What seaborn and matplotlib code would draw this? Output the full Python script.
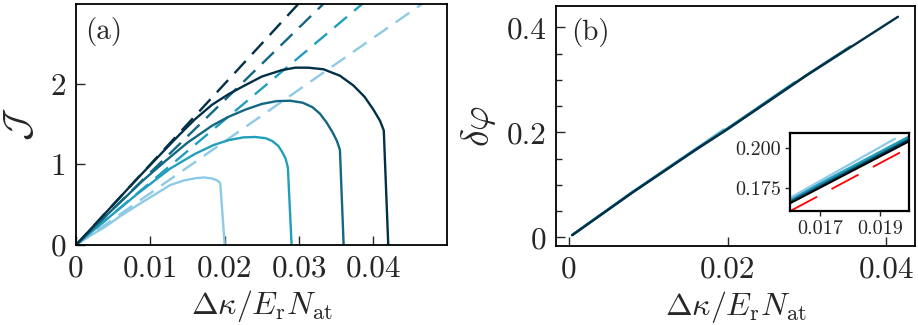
import matplotlib
matplotlib.use("Agg")
import matplotlib.pyplot as plt
from matplotlib.ticker import FuncFormatter, MultipleLocator
import seaborn as sns

# colours, light -> dark
colors = ['#8ecae6', '#219ebc', '#126782', '#023047']

# panel (a): J vs delta kappa, solid curves
j_x1 = [0, 0.002, 0.004, 0.006, 0.0082, 0.0105, 0.0127, 0.0145, 0.0162, 0.0172, 0.0183, 0.0190, 0.0194, 0.0200]
j_y1 = [0, 0.12, 0.23, 0.36, 0.49, 0.62, 0.745, 0.80, 0.83, 0.838, 0.825, 0.80, 0.77, 0]
j_x2 = [0, 0.004, 0.0082, 0.0127, 0.016, 0.0185, 0.0205, 0.0225, 0.0241, 0.0255, 0.0264, 0.0272, 0.0277, 0.0282, 0.0285, 0.0290]
j_y2 = [0, 0.31, 0.63, 0.95, 1.13, 1.24, 1.30, 1.335, 1.34, 1.325, 1.29, 1.23, 1.16, 1.07, 0.96, 0]
j_x3 = [0, 0.003, 0.006, 0.009, 0.012, 0.015, 0.0183, 0.0205, 0.0228, 0.025, 0.027, 0.0288, 0.0305, 0.0318, 0.0328, 0.0337, 0.0345, 0.0351, 0.0355, 0.0360]
j_y3 = [0, 0.27, 0.535, 0.80, 1.04, 1.27, 1.48, 1.59, 1.68, 1.75, 1.785, 1.79, 1.765, 1.71, 1.63, 1.52, 1.40, 1.29, 1.18, 0]
j_x4 = [0, 0.002, 0.005, 0.008, 0.0109, 0.0135, 0.016, 0.0183, 0.0205, 0.0225, 0.025, 0.0277, 0.0295, 0.0312, 0.0333, 0.0355, 0.0373, 0.0388, 0.0400, 0.0409, 0.0414, 0.0420]
j_y4 = [0, 0.20, 0.50, 0.80, 1.08, 1.33, 1.56, 1.74, 1.87, 1.97, 2.09, 2.17, 2.20, 2.20, 2.18, 2.10, 1.98, 1.84, 1.68, 1.54, 1.42, 0]

# panel (a): linear dashed guides (start and end points)
lin_x = [[0, 0.0498], [0, 0.0412], [0, 0.0356], [0, 0.032]]
lin_y = [[0, 3.2], [0, 3.2], [0, 3.2], [0, 3.2]]

# panel (b): delta phi vs delta kappa
p_x1 = [0.0004, 0.008, 0.016, 0.0195]
p_y1 = [0.0045, 0.0865, 0.1688, 0.2058]
p_x2 = [0.0004, 0.008, 0.016, 0.020, 0.0285]
p_y2 = [0.0043, 0.0860, 0.1680, 0.2075, 0.2955]
p_x3 = [0.0004, 0.008, 0.016, 0.020, 0.030, 0.0355]
p_y3 = [0.0042, 0.0856, 0.1673, 0.2067, 0.3095, 0.3635]
p_x4 = [0.0004, 0.008, 0.016, 0.020, 0.030, 0.0415]
p_y4 = [0.0040, 0.0852, 0.1667, 0.2058, 0.3085, 0.4200]
black_x = [0.0155, 0.0205]
black_y = [0.1611, 0.2099]
red_x = [0.0160, 0.0205]
red_y = [0.1605, 0.2055]

sns.set_theme(style='ticks')
plt.rcParams['font.family'] = 'serif'
plt.rcParams['font.serif'] = ['cmr10', 'DejaVu Serif']
plt.rcParams['mathtext.fontset'] = 'cm'
plt.rcParams['axes.formatter.use_mathtext'] = True

fs_tick = 22.5
fs_xlab = 23
fs_ylab = 27
fig = plt.figure(figsize=(9.18, 3.25), dpi=100)
ax1 = fig.add_axes([0.0828, 0.2462, 0.4041, 0.7415])
ax2 = fig.add_axes([0.6057, 0.2431, 0.3911, 0.7385])
axin = fig.add_axes([0.8606, 0.3508, 0.1296, 0.24])

fmt = FuncFormatter(lambda v, p: '%g' % round(v, 6))

# (a)
for i in range(4):
    sns.lineplot(x=lin_x[i], y=lin_y[i], ax=ax1, color=colors[i], lw=1.7,
                 linestyle=(0, (7, 4)), sort=False, estimator=None)
for xs, ys, c in zip([j_x1, j_x2, j_x3, j_x4], [j_y1, j_y2, j_y3, j_y4], colors):
    sns.lineplot(x=xs, y=ys, ax=ax1, color=c, lw=1.7, sort=False, estimator=None)
ax1.set_xlim(0, 0.0499)
ax1.set_ylim(0, 2.99)
ax1.set_xticks([0, 0.01, 0.02, 0.03, 0.04])
ax1.set_yticks([0, 1, 2])
ax1.xaxis.set_major_formatter(fmt)
ax1.yaxis.set_major_formatter(fmt)
ax1.set_xlabel(r'$\Delta\kappa/E_{\mathrm{r}}N_{\mathrm{at}}$', fontsize=fs_xlab, labelpad=4)
ax1.set_ylabel(r'$\mathcal{J}$', fontsize=fs_ylab, labelpad=10)
ax1.text(0.024, 0.945, '(a)', transform=ax1.transAxes, ha='left', va='top', fontsize=21)

# (b)
for xs, ys, c in zip([p_x1, p_x2, p_x3, p_x4], [p_y1, p_y2, p_y3, p_y4], colors):
    sns.lineplot(x=xs, y=ys, ax=ax2, color=c, lw=1.7, sort=False, estimator=None)
ax2.set_xlim(-0.00164, 0.04366)
ax2.set_ylim(-0.0166, 0.4406)
ax2.set_xticks([0, 0.02, 0.04])
ax2.set_yticks([0, 0.2, 0.4])
ax2.yaxis.set_minor_locator(MultipleLocator(0.05))
ax2.xaxis.set_major_formatter(fmt)
ax2.yaxis.set_major_formatter(fmt)
ax2.set_xlabel(r'$\Delta\kappa/E_{\mathrm{r}}N_{\mathrm{at}}$', fontsize=fs_xlab, labelpad=4)
ax2.set_ylabel(r'$\delta\varphi$', fontsize=fs_ylab, labelpad=6)
ax2.text(0.042, 0.95, '(b)', transform=ax2.transAxes, ha='left', va='top', fontsize=21)

for ax in (ax1, ax2):
    ax.tick_params(which='major', direction='in', length=6.5, width=1, labelsize=fs_tick, pad=7)
    ax.tick_params(which='minor', direction='in', length=4, width=1)
    ax.tick_params(axis='x', which='minor', bottom=False)
    for s in ax.spines.values():
        s.set_linewidth(1.3)
        s.set_color('black')

# inset
sns.lineplot(x=black_x, y=black_y, ax=axin, color='black', lw=2.6, sort=False, estimator=None)
for xs, ys, c in zip([p_x4, p_x3, p_x2, p_x1], [p_y4, p_y3, p_y2, p_y1], colors[::-1]):
    sns.lineplot(x=xs, y=ys, ax=axin, color=c, lw=1.6, sort=False, estimator=None)
sns.lineplot(x=red_x, y=red_y, ax=axin, color='red', lw=1.3,
             linestyle=(0, (17, 9)), sort=False, estimator=None)
axin.set_xlim(0.016, 0.01997)
axin.set_ylim(0.1606, 0.2094)
axin.set_xticks([0.017, 0.019])
axin.set_yticks([0.175, 0.200])
axin.xaxis.set_major_formatter(FuncFormatter(lambda v, p: '%.3f' % v))
axin.yaxis.set_major_formatter(FuncFormatter(lambda v, p: '%.3f' % v))
axin.tick_params(direction='out', length=3.5, width=1, labelsize=14.5, pad=3)
axin.set_xlabel('')
axin.set_ylabel('')
for s in axin.spines.values():
    s.set_linewidth(1.6)
    s.set_color('black')

fig.savefig('out.png', dpi=100)
